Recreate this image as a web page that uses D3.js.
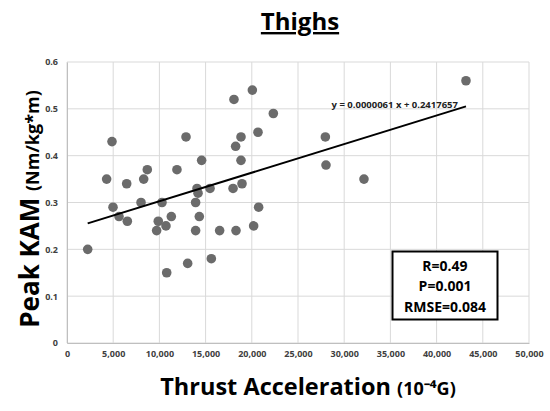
<!DOCTYPE html>
<html>
<head>
<meta charset="utf-8">
<script src="https://cdn.jsdelivr.net/npm/d3@7"></script>
<style>
  body { margin: 0; background: #fff; }
  text { font-family: "Open Sans", "Liberation Sans", sans-serif; }
</style>
</head>
<body>
<svg width="550" height="411"></svg>
<script>
// thrust acceleration (10^-4 G) and peak KAM
const thrust = [2240, 4290, 4870, 4980, 5630, 6460, 6530, 8010, 8300, 8690,
    9700, 9880, 10280, 10710, 10790, 11290, 11900, 12880, 13060, 13920,
    13920, 14070, 14180, 14320, 14570, 15480, 15620, 16520, 17970, 18070,
    18250, 18290, 18830, 18830, 18940, 20060, 20200, 20670, 20740, 22330,
    27960, 28030, 32140, 43180];
const kam = [0.20, 0.35, 0.43, 0.29, 0.27, 0.34, 0.26, 0.30, 0.35, 0.37,
    0.24, 0.26, 0.30, 0.25, 0.15, 0.27, 0.37, 0.44, 0.17, 0.24,
    0.30, 0.33, 0.32, 0.27, 0.39, 0.33, 0.18, 0.24, 0.33, 0.52,
    0.42, 0.24, 0.44, 0.39, 0.34, 0.54, 0.25, 0.45, 0.29, 0.49,
    0.44, 0.38, 0.35, 0.56];
const xTicks = [0, 5000, 10000, 15000, 20000, 25000, 30000, 35000, 40000, 45000, 50000];
const yTicks = [0, 0.1, 0.2, 0.3, 0.4, 0.5, 0.6];
const slope = 0.0000061;
const intercept = 0.2417657;
const stats = ['R=0.49', 'P=0.001', 'RMSE=0.084'];

const POINT_COLOR = '#6b6b6b';
const GRID_COLOR = '#d9d9d9';

const margin = { left: 67, right: 21, top: 62, bottom: 68 };
const width = 550 - margin.left - margin.right;
const height = 411 - margin.top - margin.bottom;

const svg = d3.select('svg');
const g = svg.append('g')
    .attr('transform', 'translate(' + margin.left + ',' + margin.top + ')');

const x = d3.scaleLinear().domain([0, 50000]).range([0, width]);
const y = d3.scaleLinear().domain([0, 0.6]).range([height, 0]);

/* grid */
g.append('g')
    .selectAll('line')
    .data(xTicks)
    .join('line')
    .attr('x1', d => x(d)).attr('x2', d => x(d))
    .attr('y1', 0).attr('y2', height)
    .attr('stroke', GRID_COLOR);

g.append('g')
    .selectAll('line')
    .data(yTicks)
    .join('line')
    .attr('x1', 0).attr('x2', width)
    .attr('y1', d => y(d)).attr('y2', d => y(d))
    .attr('stroke', GRID_COLOR);

/* axes */
const xAxis = g.append('g')
    .attr('transform', 'translate(0,' + height + ')')
    .call(d3.axisBottom(x).tickValues(xTicks).tickSize(0).tickPadding(8)
        .tickFormat(d3.format(',')));
const yAxis = g.append('g')
    .call(d3.axisLeft(y).tickValues(yTicks).tickSize(0).tickPadding(9)
        .tickFormat(d => d === 0 ? '0' : d3.format('.1f')(d)));

[xAxis, yAxis].forEach(a => {
    a.select('.domain').attr('stroke', '#bfbfbf');
    a.selectAll('text')
        .attr('fill', '#404040')
        .style('font-size', '9px')
        .style('font-weight', 'bold');
});

/* points */
const pts = thrust.map((t, i) => ({ t: t, k: kam[i] }));
g.append('g')
    .selectAll('circle')
    .data(pts)
    .join('circle')
    .attr('cx', d => x(d.t))
    .attr('cy', d => y(d.k))
    .attr('r', 4.8)
    .attr('fill', POINT_COLOR);

/* trend line */
const xExt = d3.extent(thrust);
g.append('path')
    .datum(xExt)
    .attr('fill', 'none')
    .attr('stroke', '#000')
    .attr('stroke-width', 2)
    .attr('d', d3.line()
        .x(d => x(d))
        .y(d => y(slope * d + intercept)));

g.append('text')
    .attr('x', x(xExt[1]) - 8)
    .attr('y', y(slope * xExt[1] + intercept) + 2)
    .attr('text-anchor', 'end')
    .style('font-size', '9.5px')
    .style('font-weight', 'bold')
    .attr('fill', '#222')
    .text('y = 0.0000061 x + 0.2417657');

/* stats box */
const box = g.append('g').attr('transform', 'translate(' + (392.5 - margin.left) + ',' + (251.5 - margin.top) + ')');
box.append('rect')
    .attr('width', 105).attr('height', 68)
    .attr('fill', '#fff')
    .attr('stroke', '#000')
    .attr('stroke-width', 2);
box.selectAll('text')
    .data(stats)
    .join('text')
    .attr('x', 52.5)
    .attr('y', (d, i) => 19 + i * 20.5)
    .attr('text-anchor', 'middle')
    .style('font-size', '14px')
    .style('font-weight', 'bold')
    .text(d => d);

/* title */
svg.append('text')
    .attr('x', 300)
    .attr('y', 30)
    .attr('text-anchor', 'middle')
    .style('font-size', '24px')
    .style('font-weight', 'bold')
    .style('text-decoration', 'underline')
    .text('Thighs');

/* axis titles */
const xt = svg.append('text')
    .attr('x', 308)
    .attr('y', 395)
    .attr('text-anchor', 'middle')
    .style('font-weight', 'bold');
xt.append('tspan').style('font-size', '23.5px').text('Thrust Acceleration ');
xt.append('tspan').style('font-size', '18px').text('(10⁻⁴G)');

const yt = svg.append('text')
    .attr('transform', 'translate(39,209) rotate(-90)')
    .attr('text-anchor', 'middle')
    .style('font-weight', 'bold');
yt.append('tspan').style('font-size', '26px').text('Peak KAM ');
yt.append('tspan').style('font-size', '18px').text('(Nm/kg*m)');
</script>
</body>
</html>
